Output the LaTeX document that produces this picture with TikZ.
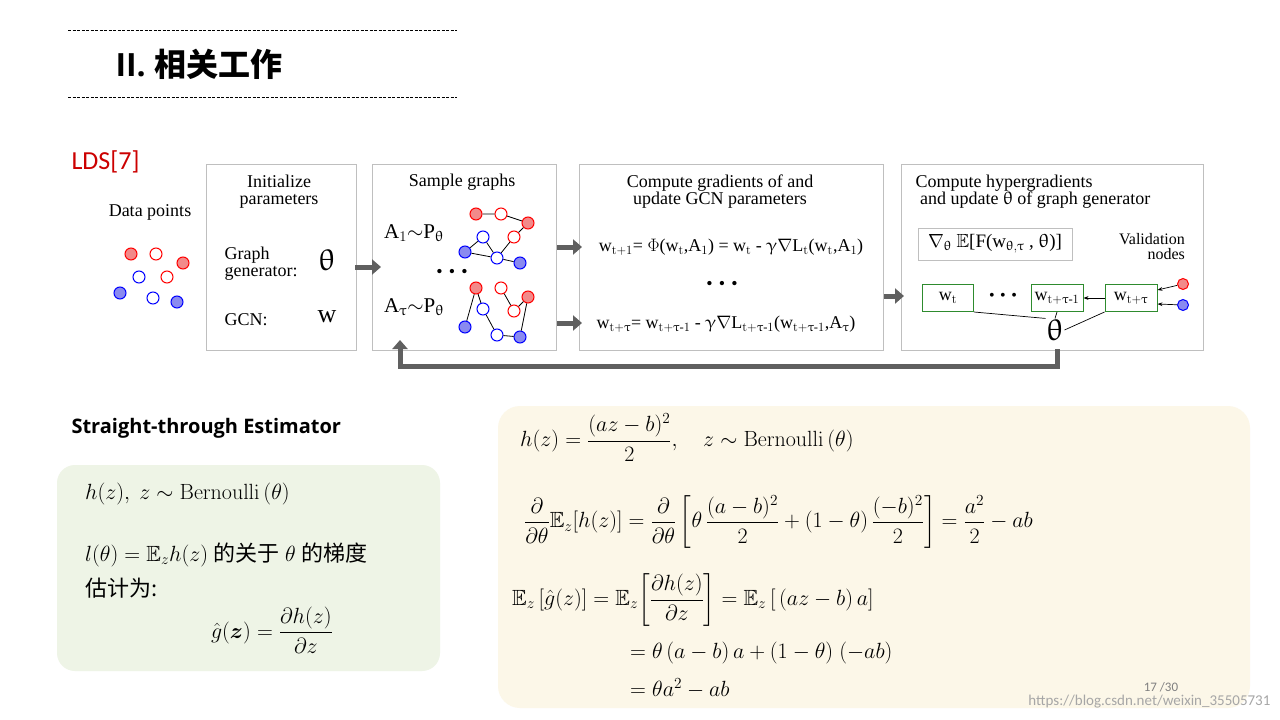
\documentclass[tikz,border=0pt]{standalone}
\usepackage{fix-cm}
\usepackage{amsmath,amssymb,bm,upgreek}
\usepackage[no-math]{fontspec}
\setmainfont{Liberation Serif}
\newfontfamily\cjk{Noto Sans CJK SC}
\newfontfamily\osans{Open Sans}
\newfontfamily\csans{Carlito}
\usetikzlibrary{arrows.meta}
\definecolor{boxgray}{HTML}{BFBFBF}
\definecolor{arrgray}{HTML}{606060}
\definecolor{rfill}{HTML}{F28A8A}
\definecolor{bfill}{HTML}{8A8AF0}
\definecolor{gbox}{HTML}{2E8B2E}
\definecolor{greenbg}{HTML}{EEF4E6}
\definecolor{beigebg}{HTML}{FCF7E8}
\newcommand{\tdots}{\textbullet\hspace{0.35em}\textbullet\hspace{0.35em}\textbullet}
\newcommand{\subr}[1]{\ensuremath{_{\mathrm{#1}}}}
\tikzset{
  stage/.style={draw=boxgray,line width=1pt},
  bigarr/.style={arrgray,line width=5pt,-{Triangle[length=9pt,width=15pt]}},
  rf/.style={circle,draw=red,fill=rfill,line width=1pt,minimum size=12pt,inner sep=0pt},
  ro/.style={circle,draw=red,fill=white,line width=1pt,minimum size=12pt,inner sep=0pt},
  bf/.style={circle,draw=blue,fill=bfill,line width=1pt,minimum size=12pt,inner sep=0pt},
  bo/.style={circle,draw=blue,fill=white,line width=1pt,minimum size=12pt,inner sep=0pt},
  edge/.style={line width=0.8pt},
  wbox/.style={draw=gbox,line width=1pt,minimum height=27pt,inner sep=1pt,font=\fontsize{18}{20}\selectfont},
  txt/.style={font=\fontsize{18}{20}\selectfont,align=center},
  eq/.style={anchor=west,font=\fontsize{22}{26}\selectfont,inner sep=0pt},
}
\begin{document}
\begin{tikzpicture}[x=1pt,y=-1pt]
\useasboundingbox[fill=white] (0,0) rectangle (1280,720);
% title
\draw[line width=0.7pt,dash pattern=on 3pt off 1.5pt] (68,30) -- (457,30);
\draw[line width=0.7pt,dash pattern=on 3pt off 1.5pt] (68,97) -- (457,97);
\node[anchor=west,font=\osans\bfseries\fontsize{32}{36}\selectfont] (title) at (112,64) {II. {\cjk\bfseries 相关工作}};
\node[anchor=west,text=red!80!black,font=\csans\fontsize{26}{30}\selectfont] (lds) at (68,162) {LDS[7]};
% stage boxes
\draw[stage] (206,164) rectangle (356,350);
\draw[stage] (372,164) rectangle (556,350);
\draw[stage] (579,164) rectangle (883,350);
\draw[stage] (901,164) rectangle (1203,350);
% data points
\node[txt] (dp) at (150,212) {Data points};
\node[rf] (d1) at (131,254) {}; \node[ro] (d2) at (156,254) {}; \node[rf] (d3) at (183,263) {};
\node[bo] (d4) at (139,277) {}; \node[ro] (d5) at (167,277) {};
\node[bf] (d6) at (120,293) {}; \node[bo] (d7) at (153,298) {}; \node[bf] (d8) at (177,302) {};
% box1
\node[txt] (init) at (279,192) {Initialize\\[-3pt]parameters};
\node[txt,align=left,anchor=west] (gg) at (221,264) {Graph\\[-3pt]generator:};
\node[font=\fontsize{30}{34}\selectfont] (th1) at (327,260) {$\uptheta$};
\node[txt,anchor=west] (gcn) at (221,320) {GCN:};
\node[font=\fontsize{26}{28}\selectfont] (w1) at (327,317) {w};
% box2
\node[txt] (sg) at (462,182) {Sample graphs};
\node[txt,font=\fontsize{21}{24}\selectfont] (a1) at (414,233) {A\subr{1}$\sim$P$_\uptheta$};
\node[txt,font=\fontsize{21}{24}\selectfont] (at) at (414,307) {A$_\uptau$$\sim$P$_\uptheta$};
\node[font=\fontsize{18}{20}\selectfont] (dots2) at (452,273) {\tdots};
\node[rf] (g1) at (476,214) {}; \node[ro] (g2) at (501,214) {}; \node[rf] (g3) at (528,223) {};
\node[bo] (g4) at (483,237) {}; \node[ro] (g5) at (514,237) {};
\node[bf] (g6) at (465,252) {}; \node[bo] (g7) at (497,258) {}; \node[bf] (g8) at (520,263) {};
\draw[edge] (g1)--(g2) (g2)--(g3) (g3)--(g5) (g5)--(g7) (g4)--(g6) (g4)--(g7) (g6)--(g7) (g7)--(g8);
\node[rf] (h1) at (476,288) {}; \node[ro] (h2) at (501,288) {}; \node[rf] (h3) at (528,297) {};
\node[bo] (h4) at (483,309) {}; \node[ro] (h5) at (514,311) {};
\node[bf] (h6) at (465,327) {}; \node[bo] (h7) at (497,335) {}; \node[bf] (h8) at (520,337) {};
\draw[edge] (h1)--(h6) (h1)--(h4) (h4)--(h7) (h7)--(h8) (h8)--(h3) (h3)--(h5) (h5)--(h2);
% box3
\node[txt] (cg) at (720,192) {Compute gradients of and\\[-3pt]update GCN parameters};
\node[txt] (eq1) at (731,247) {w\subr{t+1}= $\Phi$(w\subr{t},A\subr{1}) = w\subr{t} - $\upgamma\nabla$L\subr{t}(w\subr{t},A\subr{1})};
\node[font=\fontsize{18}{20}\selectfont] (dots3) at (722,285) {\tdots};
\node[txt] (eq2) at (726,324) {w$_{\mathrm{t}+\uptau}$= w$_{\mathrm{t}+\uptau\text{-}1}$ - $\upgamma\nabla$L$_{\mathrm{t}+\uptau\text{-}1}$(w$_{\mathrm{t}+\uptau\text{-}1}$,A$_\uptau$)};
% box4
\node[txt,align=left,anchor=west] (ch) at (912,192) {Compute hypergradients\\[-3pt]\ and update $\uptheta$ of graph generator};
\node[draw=boxgray,line width=1pt,font=\fontsize{19}{22}\selectfont,minimum width=154pt,minimum height=32pt] (nab) at (995,244) {$\nabla_\uptheta$ $\mathbb{E}$[F(w$_{\uptheta,\uptau}$ , $\uptheta$)]};
\node[txt,align=right,font=\fontsize{16}{17}\selectfont] (val) at (1152,247) {Validation\\[-2pt]nodes};
\node[wbox,minimum width=51pt] (wt) at (948,298) {w\subr{t}};
\node[font=\fontsize{16}{18}\selectfont] (dots4) at (1003,297) {\tdots};
\node[wbox,minimum width=52pt] (wt1) at (1057,298) {w$_{\mathrm{t}+\uptau\text{-}1}$};
\node[wbox,minimum width=52pt] (wt2) at (1131,298) {w$_{\mathrm{t}+\uptau}$};
\node[font=\fontsize{30}{34}\selectfont,inner sep=1pt] (th4) at (1055,330) {$\uptheta$};
\node[circle,draw=red,fill=rfill,line width=1pt,minimum size=11pt,inner sep=0pt] (vr) at (1183,284) {};
\node[circle,draw=blue,fill=bfill,line width=1pt,minimum size=11pt,inner sep=0pt] (vb) at (1183,305) {};
\draw[-{Stealth[length=5pt]},line width=0.7pt] (vr) -- (wt2.east |- 0,290);
\draw[-{Stealth[length=5pt]},line width=0.7pt] (vb) -- (wt2.east |- 0,304);
\draw[-{Stealth[length=5pt]},line width=0.7pt] (wt2) -- (wt1);
\draw[line width=0.7pt] (wt.south east) -- (th4.north west);
\draw[line width=0.7pt] (wt1.south) -- (th4.north);
\draw[line width=0.7pt] (wt2.south west) -- (th4.east);
% big arrows
\draw[bigarr] (355,267) -- (381,267);
\draw[bigarr] (557,247) -- (582,247);
\draw[bigarr] (557,323) -- (582,323);
\draw[bigarr] (884,296) -- (904,296);
\coordinate (fb) at (400,340);
\draw[arrgray,line width=5pt,-{Triangle[length=9pt,width=15pt]}] (1057,349) -- (1057,366) -- (400,366) -- (fb);
% bottom left
\node[anchor=west,font=\osans\bfseries\fontsize{20}{24}\selectfont] (ste) at (68,428) {Straight-through Estimator};
\fill[greenbg,rounded corners=18pt] (57,465) rectangle (440,671);
\node[eq] (l1) at (85,494) {$h(z),\ z\sim\mathrm{Bernoulli}\,(\theta)$};
\node[eq] (l2) at (85,555) {$l(\theta)=\mathbb{E}_z h(z)$ {\cjk 的关于} $\theta$ {\cjk 的梯度}};
\node[eq] (l3) at (85,588) {\cjk 估计为:};
\node[eq,anchor=center] (l4) at (272,630) {$\hat g(\bm z)=\dfrac{\partial h(z)}{\partial z}$};
% bottom right
\fill[beigebg,rounded corners=22pt] (498,406) rectangle (1250,708);
\node[eq] (r1) at (520,438) {$h(z)=\dfrac{(az-b)^2}{2},\quad z\sim\mathrm{Bernoulli}\,(\theta)$};
\node[eq] (r2) at (524,522) {$\dfrac{\partial}{\partial\theta}\mathbb{E}_z[h(z)]=\dfrac{\partial}{\partial\theta}\left[\theta\,\dfrac{(a-b)^2}{2}+(1-\theta)\,\dfrac{(-b)^2}{2}\right]=\dfrac{a^2}{2}-ab$};
\node[eq] (r3) at (512,600) {$\mathbb{E}_z\,[\hat g(z)]=\mathbb{E}_z\!\left[\dfrac{\partial h(z)}{\partial z}\right]=\mathbb{E}_z\,[\,(az-b)\,a]$};
\node[eq] (r4) at (630,653) {$=\theta\,(a-b)\,a+(1-\theta)\;(-ab)$};
\node[eq] (r5) at (630,688) {$=\theta a^2-ab$};
\node[font=\csans\fontsize{13}{15}\selectfont,text=gray] (pg) at (1161,687) {17 /30};
\node[anchor=east,font=\csans\fontsize{15}{17}\selectfont,text=gray!70] (wm) at (1274,702) {https://blog.csdn.net/weixin\_35505731};
\end{tikzpicture}
\end{document}
